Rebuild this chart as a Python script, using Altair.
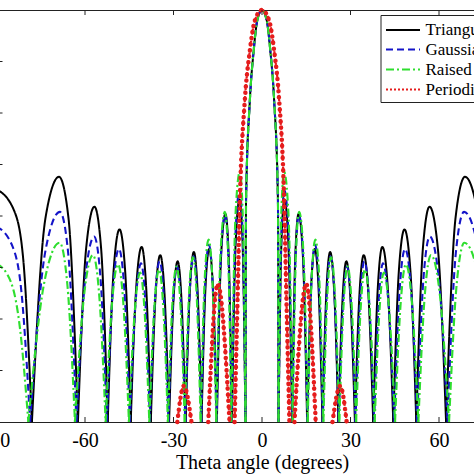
import altair as alt
import pandas as pd

FONT = "Liberation Serif"
FLOOR = -40.0
# level of a side lobe halfway between its null and its crest, below the crest (dB)
SHOULDER_DROP = 4.0

SERIES = ["Triangular", "Gaussian", "Raised cosine", "Periodic"]
COLORS = ["#000000", "#1414c8", "#2ede2e", "#e51c1c"]
DASHES = [[1, 0], [7, 4], [8, 3, 2, 3], [2, 2]]
WIDTHS = [2.0, 2.2, 2.2, 1.2]

# Positive half of each pattern (the patterns are symmetric about broadside).
# Main beam outline: angle (deg) and level (dB) down to the floor.
MAIN_THETA = [0.0, 1.6, 2.8, 4.1, 5.4, 5.6]
MAIN_DB = [0.0, -1.0, -3.9, -8.7, -18.4, FLOOR]

# Triangular taper: nulls, side-lobe peak angles and peak levels
TRI_NULLS = [5.6, 10.2, 15.3, 20.5, 25.9, 31.5, 37.7, 44.5, 52.3, 62.4, 78.0]
TRI_PEAKS = [7.6, 12.4, 17.9, 23.1, 28.6, 34.5, 40.8, 48.3, 56.8, 68.8]
TRI_DB = [-18.4, -19.8, -23.2, -23.5, -24.4, -23.8, -23.0, -21.3, -19.1, -16.2]
TRI_EDGE_THETA = [81.0, 84.0, 90.0]
TRI_EDGE_DB = [-24.0, -19.5, -17.4]

# Gaussian taper
GAU_NULLS = [5.6, 10.3, 15.4, 20.6, 26.0, 31.7, 38.0, 44.8, 52.6, 62.9, 78.6]
GAU_PEAKS = [7.6, 12.5, 18.0, 23.2, 28.8, 34.7, 41.0, 48.5, 56.9, 68.5]
GAU_DB = [-17.5, -19.9, -22.8, -23.9, -24.9, -24.4, -24.6, -23.2, -22.0, -19.6]
GAU_EDGE_THETA = [81.5, 84.5, 90.0]
GAU_EDGE_DB = [-27.5, -23.0, -21.0]

# Raised cosine taper
RC_NULLS = [5.6, 10.4, 15.5, 20.8, 26.2, 31.9, 38.2, 45.1, 53.0, 63.4, 79.2]
RC_PEAKS = [7.5, 12.6, 18.1, 23.4, 29.0, 34.9, 41.3, 48.8, 57.3, 68.6]
RC_DB = [-15.7, -19.6, -22.3, -24.0, -24.9, -25.2, -25.5, -24.7, -23.8, -22.6]
RC_EDGE_THETA = [82.0, 85.0, 90.0]
RC_EDGE_DB = [-31.0, -26.5, -24.6]

# Periodic array: wider main beam and a few lobes rising above the floor
PER_MAIN_THETA = [0.0, 2.4, 4.1, 5.8, 7.5, 8.3, 9.3]
PER_MAIN_DB = [0.0, -1.0, -3.9, -8.7, -18.4, -28.2, FLOOR]
PER_START = [11.0, 23.9]
PER_PEAK = [15.0, 26.5]
PER_DB = [-26.6, -36.5]
PER_END = [18.2, 28.7]

rows = []


def add_lobe(series, key, thetas, dbs):
    for t, d in zip(thetas, dbs):
        rows.append({"series": series, "lobe": key, "theta": t, "db": d})


def add_main(series, thetas, dbs):
    t = [-v for v in reversed(thetas[1:])] + thetas
    d = list(reversed(dbs[1:])) + dbs
    add_lobe(series, series + "-main", t, d)


def add_tapered(series, nulls, peaks, levels, edge_t, edge_db):
    add_main(series, MAIN_THETA, MAIN_DB)
    for side in (-1, 1):
        for k, (p, lv) in enumerate(zip(peaks, levels)):
            a, b = nulls[k], nulls[k + 1]
            add_lobe(series, f"{series}-{side}-{k}",
                     [side * a, side * (a + p) / 2, side * p, side * (p + b) / 2, side * b],
                     [FLOOR, lv - SHOULDER_DROP, lv, lv - SHOULDER_DROP, FLOOR])
        add_lobe(series, f"{series}-{side}-edge",
                 [side * nulls[-1]] + [side * v for v in edge_t],
                 [FLOOR] + edge_db)


add_tapered("Triangular", TRI_NULLS, TRI_PEAKS, TRI_DB, TRI_EDGE_THETA, TRI_EDGE_DB)
add_tapered("Gaussian", GAU_NULLS, GAU_PEAKS, GAU_DB, GAU_EDGE_THETA, GAU_EDGE_DB)
add_tapered("Raised cosine", RC_NULLS, RC_PEAKS, RC_DB, RC_EDGE_THETA, RC_EDGE_DB)

add_main("Periodic", PER_MAIN_THETA, PER_MAIN_DB)
for side in (-1, 1):
    for k in range(len(PER_PEAK)):
        add_lobe("Periodic", f"Periodic-{side}-{k}",
                 [side * PER_START[k], side * PER_PEAK[k], side * PER_END[k]],
                 [FLOOR, PER_DB[k], FLOOR])

df = pd.DataFrame(rows)

X_TICKS = [-90, -60, -30, 0, 30, 60]
Y_TICKS = [-35, -30, -25, -20, -15, -10, -5]

x_enc = alt.X(
    "theta:Q",
    scale=alt.Scale(domain=[-90, 90], nice=False, zero=False),
    axis=alt.Axis(
        values=X_TICKS, labelExpr="datum.value + ''", ticks=False, domain=False,
        grid=False, labelFont=FONT, labelFontSize=20, labelColor="black",
        labelPadding=8, labelFlush=False, labelOverlap=False,
        title="Theta angle (degrees)", titleFont=FONT, titleFontSize=20,
        titleFontWeight="normal", titleColor="black", titlePadding=2,
    ),
)
y_enc = alt.Y("db:Q", scale=alt.Scale(domain=[FLOOR, 0], nice=False, zero=False), axis=None)

lines = alt.Chart(df).mark_line(interpolate="monotone", strokeCap="butt").encode(
    x=x_enc,
    y=y_enc,
    color=alt.Color("series:N", scale=alt.Scale(domain=SERIES, range=COLORS),
                    legend=alt.Legend(title=None)),
    strokeDash=alt.StrokeDash("series:N", scale=alt.Scale(domain=SERIES, range=DASHES),
                              legend=alt.Legend(title=None)),
    strokeWidth=alt.StrokeWidth("series:N", scale=alt.Scale(domain=SERIES, range=WIDTHS),
                                legend=None),
    detail="lobe:N",
)

# round markers along the periodic-array curve
dots = alt.Chart(df).transform_filter(alt.datum.series == "Periodic").mark_line(
    interpolate="monotone", color=COLORS[3], strokeWidth=4.5,
    strokeDash=[0.1, 6], strokeCap="round",
).encode(x=x_enc, y=y_enc, detail="lobe:N")

# inward tick marks on the frame
xt = pd.DataFrame({"theta": X_TICKS})
yt = pd.DataFrame({"db": Y_TICKS})
tick_style = dict(color="#222", strokeWidth=1)
bottom_ticks = alt.Chart(xt).mark_rule(**tick_style).encode(
    x=x_enc, y=alt.value(412), y2=alt.value(407))
top_ticks = alt.Chart(xt).mark_rule(**tick_style).encode(
    x=x_enc, y=alt.value(0), y2=alt.value(5))
left_ticks = alt.Chart(yt).mark_rule(**tick_style).encode(
    y=y_enc, x=alt.value(0), x2=alt.value(6))

chart = alt.layer(lines, dots, bottom_ticks, top_ticks, left_ticks).properties(
    width=531,
    height=412,
    padding={"left": -3.5, "top": 10, "right": -53.5, "bottom": 52},
    autosize=alt.AutoSizeParams(type="none"),
    background="white",
).configure_view(
    stroke="#222", strokeWidth=1,
).configure_legend(
    orient="none", legendX=384, legendY=5, strokeColor="#222", fillColor="white",
    padding=4, symbolType="M-1.7,0H1.7", symbolSize=400, symbolStrokeWidth=2,
    labelFont=FONT, labelFontSize=17, labelColor="black", rowPadding=0,
    labelLimit=0, cornerRadius=0, labelOffset=11, symbolOffset=7,
)

chart.save("out.html", embed_options={"renderer": "svg", "actions": False})
